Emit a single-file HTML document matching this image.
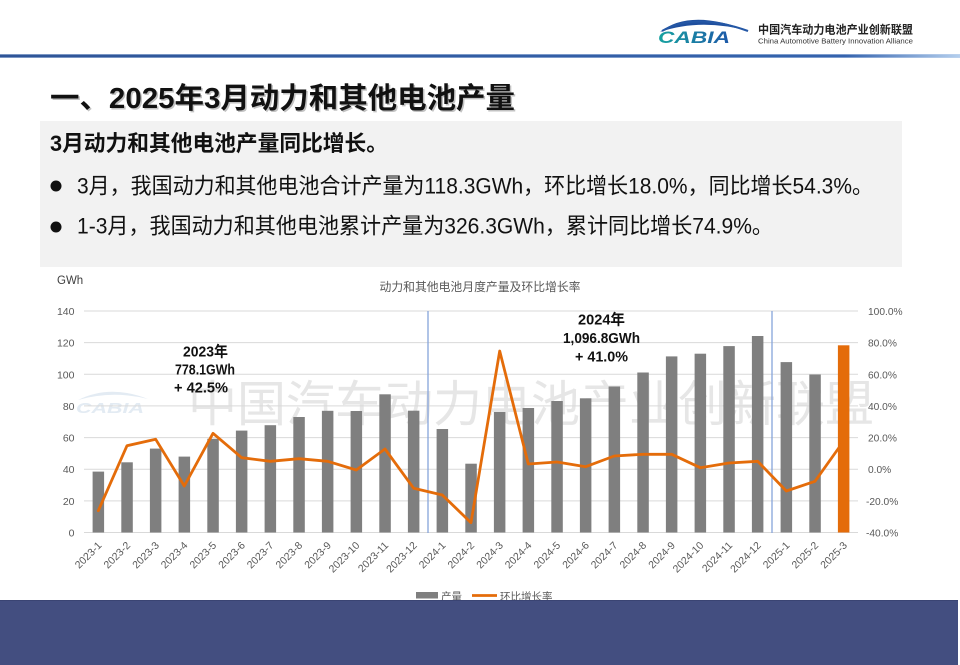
<!DOCTYPE html>
<html><head><meta charset="utf-8">
<style>
html,body{margin:0;padding:0;background:#fff;}
svg{display:block;}
text{font-family:"Liberation Sans","Noto Sans CJK SC",sans-serif;}
</style></head>
<body>
<svg width="960" height="665" viewBox="0 0 960 665" xmlns="http://www.w3.org/2000/svg">
<defs>
<linearGradient id="hl" x1="0" x2="1" y1="0" y2="0">
<stop offset="0" stop-color="#2f5597"/><stop offset="0.88" stop-color="#3563ad"/><stop offset="1" stop-color="#b4cfee"/>
</linearGradient>
<linearGradient id="lg" x1="0" x2="1" y1="0" y2="0">
<stop offset="0" stop-color="#17a3a0"/><stop offset="1" stop-color="#1d58a8"/>
</linearGradient>
</defs>
<rect x="0" y="0" width="960" height="665" fill="#fff"/>

<!-- header logo -->
<path d="M660,32 Q690,8 749,31 Q700,18 660,32 Z" fill="#1f4f9e"/>
<path d="M662,31 Q695,12 748,31" stroke="#2457a5" stroke-width="2" fill="none"/>
<text x="658" y="43" font-size="17" font-weight="bold" font-style="italic" fill="url(#lg)" textLength="72" lengthAdjust="spacingAndGlyphs">CABIA</text>
<text x="758" y="33.5" font-size="11.5" font-weight="bold" fill="#222" textLength="155" lengthAdjust="spacingAndGlyphs">中国汽车动力电池产业创新联盟</text>
<text x="758" y="43.5" font-size="7.5" fill="#333" textLength="155" lengthAdjust="spacingAndGlyphs">China Automotive Battery Innovation Alliance</text>

<!-- header line -->
<rect x="0" y="54" width="960" height="4" fill="#c5d6ee"/>
<rect x="0" y="54.5" width="960" height="3" fill="url(#hl)"/>

<!-- title -->
<text x="51.5" y="109.5" font-size="29" font-weight="bold" fill="#9a9a9a" opacity="0.6" textLength="465" lengthAdjust="spacingAndGlyphs">一、2025年3月动力和其他电池产量</text>
<text x="50" y="108" font-size="29" font-weight="bold" fill="#111" textLength="465" lengthAdjust="spacingAndGlyphs">一、2025年3月动力和其他电池产量</text>

<!-- grey box -->
<rect x="40" y="121" width="862" height="146" fill="#f2f2f2"/>
<text x="50" y="151" font-size="22" font-weight="bold" fill="#111" textLength="338" lengthAdjust="spacingAndGlyphs">3月动力和其他电池产量同比增长。</text>
<circle cx="56" cy="186" r="5.5" fill="#111"/>
<text x="77" y="193.5" font-size="22" fill="#111" textLength="796" lengthAdjust="spacingAndGlyphs">3月，我国动力和其他电池合计产量为118.3GWh，环比增长18.0%，同比增长54.3%。</text>
<circle cx="56" cy="227" r="5.5" fill="#111"/>
<text x="77" y="233.5" font-size="22" fill="#111" textLength="696" lengthAdjust="spacingAndGlyphs">1-3月，我国动力和其他电池累计产量为326.3GWh，累计同比增长74.9%。</text>

<!-- watermark -->
<text x="188" y="421" font-size="49" fill="#e6e6e6" textLength="686" lengthAdjust="spacingAndGlyphs">中国汽车动力电池产业创新联盟</text>
<path d="M78,400 Q110,384 148,399 Q112,390 78,400 Z" fill="#e3ebf3"/>
<text x="76" y="413" font-size="15" font-weight="bold" font-style="italic" fill="#e3ebf3" textLength="68" lengthAdjust="spacingAndGlyphs">CABIA</text>

<!-- chart title & unit -->
<text x="480" y="291" font-size="12" fill="#595959" text-anchor="middle" textLength="201" lengthAdjust="spacingAndGlyphs">动力和其他电池月度产量及环比增长率</text>
<text x="57" y="284" font-size="11.5" fill="#404040">GWh</text>

<!-- gridlines -->
<g stroke="#d9d9d9" stroke-width="1">
<line x1="84" x2="858" y1="311" y2="311"/>
<line x1="84" x2="858" y1="342.6" y2="342.6"/>
<line x1="84" x2="858" y1="374.3" y2="374.3"/>
<line x1="84" x2="858" y1="405.9" y2="405.9"/>
<line x1="84" x2="858" y1="437.6" y2="437.6"/>
<line x1="84" x2="858" y1="469.2" y2="469.2"/>
<line x1="84" x2="858" y1="500.9" y2="500.9"/>
<line x1="84" x2="858" y1="532.5" y2="532.5"/>
</g>

<!-- left axis labels -->
<g font-size="10.5" fill="#595959" text-anchor="end">
<text x="74.5" y="315">140</text>
<text x="74.5" y="346.6">120</text>
<text x="74.5" y="378.3">100</text>
<text x="74.5" y="409.9">80</text>
<text x="74.5" y="441.6">60</text>
<text x="74.5" y="473.2">40</text>
<text x="74.5" y="504.9">20</text>
<text x="74.5" y="536.5">0</text>
</g>
<!-- right axis labels -->
<g font-size="10.2" fill="#595959">
<text x="868" y="315">100.0%</text>
<text x="868" y="346.6">80.0%</text>
<text x="868" y="378.3">60.0%</text>
<text x="868" y="409.9">40.0%</text>
<text x="868" y="441.6">20.0%</text>
<text x="868" y="473.2">0.0%</text>
<text x="866" y="504.9">-20.0%</text>
<text x="866" y="536.5">-40.0%</text>
</g>

<!-- bars -->
<g fill="#7f7f7f">
<rect x="92.6" y="471.6" width="11.5" height="60.9"/>
<rect x="121.3" y="462.3" width="11.5" height="70.2"/>
<rect x="149.9" y="448.6" width="11.5" height="83.9"/>
<rect x="178.6" y="456.6" width="11.5" height="75.9"/>
<rect x="207.3" y="438.8" width="11.5" height="93.7"/>
<rect x="235.9" y="430.6" width="11.5" height="101.9"/>
<rect x="264.6" y="425.2" width="11.5" height="107.3"/>
<rect x="293.3" y="417.0" width="11.5" height="115.5"/>
<rect x="321.9" y="410.8" width="11.5" height="121.7"/>
<rect x="350.6" y="411.0" width="11.5" height="121.5"/>
<rect x="379.3" y="394.3" width="11.5" height="138.2"/>
<rect x="407.9" y="410.7" width="11.5" height="121.8"/>
<rect x="436.6" y="429.0" width="11.5" height="103.5"/>
<rect x="465.3" y="463.7" width="11.5" height="68.8"/>
<rect x="493.9" y="412.0" width="11.5" height="120.5"/>
<rect x="522.6" y="408.0" width="11.5" height="124.5"/>
<rect x="551.3" y="401.0" width="11.5" height="131.5"/>
<rect x="579.9" y="398.3" width="11.5" height="134.2"/>
<rect x="608.6" y="386.5" width="11.5" height="146.0"/>
<rect x="637.3" y="372.5" width="11.5" height="160.0"/>
<rect x="665.9" y="356.4" width="11.5" height="176.1"/>
<rect x="694.6" y="353.7" width="11.5" height="178.8"/>
<rect x="723.3" y="346.1" width="11.5" height="186.4"/>
<rect x="751.9" y="336.0" width="11.5" height="196.5"/>
<rect x="780.6" y="362.1" width="11.5" height="170.4"/>
<rect x="809.3" y="374.5" width="11.5" height="158.0"/>
</g>
<rect x="837.9" y="345.3" width="11.5" height="187.2" fill="#e46c0a"/>

<!-- vertical separators -->
<line x1="428" x2="428" y1="311" y2="533" stroke="#86a4da" stroke-width="1.3"/>
<line x1="772" x2="772" y1="311" y2="533" stroke="#86a4da" stroke-width="1.3"/>

<!-- line series -->
<polyline fill="none" stroke="#e46c0a" stroke-width="2.8" stroke-linejoin="round" stroke-linecap="round"
points="98.3,510.7 127.0,445.7 155.7,439.3 184.3,486 213.0,433.3 241.7,457.7 270.3,461.3 299.0,458.7 327.7,461.3 356.3,470 385.0,449 413.7,488.3 442.3,495 471.0,522.7 499.7,351 528.3,464 557.0,462 585.7,466.7 614.3,456 643.0,454.3 671.7,454.3 700.3,467.7 729.0,463 757.7,461.3 786.3,491 815.0,481.3 843.7,441"/>

<!-- annotations -->
<g font-size="15" font-weight="bold" fill="#111" text-anchor="middle">
<text x="205.5" y="356.5" textLength="45" lengthAdjust="spacingAndGlyphs">2023年</text>
<text x="205" y="374.5" textLength="60" lengthAdjust="spacingAndGlyphs">778.1GWh</text>
<text x="201" y="392.5" textLength="54" lengthAdjust="spacingAndGlyphs">+ 42.5%</text>
<text x="601.5" y="324.5" textLength="47" lengthAdjust="spacingAndGlyphs">2024年</text>
<text x="601.5" y="343" textLength="77" lengthAdjust="spacingAndGlyphs">1,096.8GWh</text>
<text x="601.5" y="361.5" textLength="53" lengthAdjust="spacingAndGlyphs">+ 41.0%</text>
</g>

<!-- x labels -->
<g font-size="10.5" fill="#595959" text-anchor="end">
<text transform="translate(102.3,546) rotate(-45)">2023-1</text>
<text transform="translate(131.0,546) rotate(-45)">2023-2</text>
<text transform="translate(159.7,546) rotate(-45)">2023-3</text>
<text transform="translate(188.3,546) rotate(-45)">2023-4</text>
<text transform="translate(217.0,546) rotate(-45)">2023-5</text>
<text transform="translate(245.7,546) rotate(-45)">2023-6</text>
<text transform="translate(274.3,546) rotate(-45)">2023-7</text>
<text transform="translate(303.0,546) rotate(-45)">2023-8</text>
<text transform="translate(331.7,546) rotate(-45)">2023-9</text>
<text transform="translate(360.3,546) rotate(-45)">2023-10</text>
<text transform="translate(389.0,546) rotate(-45)">2023-11</text>
<text transform="translate(417.7,546) rotate(-45)">2023-12</text>
<text transform="translate(446.3,546) rotate(-45)">2024-1</text>
<text transform="translate(475.0,546) rotate(-45)">2024-2</text>
<text transform="translate(503.7,546) rotate(-45)">2024-3</text>
<text transform="translate(532.3,546) rotate(-45)">2024-4</text>
<text transform="translate(561.0,546) rotate(-45)">2024-5</text>
<text transform="translate(589.7,546) rotate(-45)">2024-6</text>
<text transform="translate(618.3,546) rotate(-45)">2024-7</text>
<text transform="translate(647.0,546) rotate(-45)">2024-8</text>
<text transform="translate(675.7,546) rotate(-45)">2024-9</text>
<text transform="translate(704.3,546) rotate(-45)">2024-10</text>
<text transform="translate(733.0,546) rotate(-45)">2024-11</text>
<text transform="translate(761.7,546) rotate(-45)">2024-12</text>
<text transform="translate(790.3,546) rotate(-45)">2025-1</text>
<text transform="translate(819.0,546) rotate(-45)">2025-2</text>
<text transform="translate(847.7,546) rotate(-45)">2025-3</text>
</g>

<!-- legend -->
<rect x="416" y="592" width="22" height="6.5" fill="#7f7f7f"/>
<text x="441" y="600" font-size="10.5" fill="#595959">产量</text>
<line x1="472" x2="497" y1="595.5" y2="595.5" stroke="#e46c0a" stroke-width="2.8"/>
<text x="500" y="600" font-size="10.5" fill="#595959">环比增长率</text>

<!-- bottom band -->
<rect x="0" y="600" width="958" height="65" fill="#434e80"/>
<rect x="0" y="600" width="958" height="1" fill="#3a4473"/>
</svg>
</body></html>
